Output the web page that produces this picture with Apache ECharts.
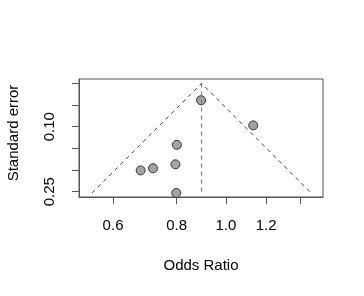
<!DOCTYPE html>
<html>
<head>
<meta charset="utf-8">
<script src="https://cdn.jsdelivr.net/npm/echarts@6/dist/echarts.min.js"></script>
<style>html,body{margin:0;padding:0;background:#fff;}#c{width:364px;height:296px;}</style>
</head>
<body>
<div id="c"></div>
<script>
// Study odds ratios and their standard errors
const oddsRatios = [0.894, 1.132, 0.801, 0.796, 0.719, 0.680, 0.799];
const standardErrors = [0.039, 0.097, 0.142, 0.187, 0.196, 0.201, 0.253];
// Pooled (summary) odds ratio
const summaryOR = 0.896;
// Axis ticks
const xTickValues = [0.6, 0.8, 1.0, 1.2, 1.4];
const xLabelValues = [0.6, 0.8, 1.0, 1.2];
const yTickValues = [0, 0.05, 0.10, 0.15, 0.20, 0.25];
const yLabelValues = [0.10, 0.25];

const font = 'Liberation Sans, Arial, sans-serif';
const est = Math.log(summaryOR);
const seMax = Math.max.apply(null, standardErrors);
const points = oddsRatios.map((v, i) => [Math.log(v), standardErrors[i]]);
const funnel = [[est - 1.96 * seMax, seMax], [est, 0], [est + 1.96 * seMax, seMax]];
const centre = [[est, 0], [est, seMax]];

const chart = echarts.init(document.getElementById('c'), null, {renderer: 'canvas'});
chart.setOption({
  animation: false,
  backgroundColor: '#fff',
  grid: {left: 79, right: 41, top: 79, bottom: 99, show: true, borderColor: '#555', borderWidth: 1,
    backgroundColor: 'transparent', containLabel: false, outerBoundsMode: 'none'},
  xAxis: {
    type: 'value', min: -0.665, max: 0.440,
    name: 'Odds Ratio', nameLocation: 'middle', nameGap: 61,
    nameTextStyle: {fontFamily: font, fontSize: 15, color: '#000'},
    axisLine: {show: true, onZero: false, lineStyle: {color: '#555'}},
    axisTick: {show: true, inside: false, length: 7, lineStyle: {color: '#555'}, customValues: xTickValues.map(Math.log)},
    axisLabel: {show: true, margin: 21, fontFamily: font, fontSize: 15, color: '#000',
      customValues: xLabelValues.map(Math.log),
      formatter: v => Math.exp(v).toFixed(1)},
    splitLine: {show: false}
  },
  yAxis: {
    type: 'value', min: -0.0101, max: 0.2624, inverse: true,
    name: 'Standard error', nameLocation: 'middle', nameGap: 58,
    nameTextStyle: {fontFamily: font, fontSize: 15, color: '#000', padding: [0, 0, 0, 10]},
    axisLine: {show: true, onZero: false, lineStyle: {color: '#555'}},
    axisTick: {show: true, inside: false, length: 7, lineStyle: {color: '#555'}, customValues: yTickValues},
    axisLabel: {show: true, rotate: 90, margin: 22, fontFamily: font, fontSize: 15, color: '#000',
      customValues: yLabelValues, formatter: v => v.toFixed(2)},
    splitLine: {show: false}
  },
  series: [
    {type: 'line', data: funnel, symbol: 'none', silent: true,
      lineStyle: {color: '#444', width: 1, type: [4, 4]}},
    {type: 'line', data: centre, symbol: 'none', silent: true,
      lineStyle: {color: '#777', width: 1, type: [4, 4]}},
    {type: 'scatter', data: points, symbol: 'circle', symbolSize: 9,
      itemStyle: {color: '#a3a3a3', borderColor: '#333', borderWidth: 1, opacity: 1}}
  ]
});
</script>
</body>
</html>
